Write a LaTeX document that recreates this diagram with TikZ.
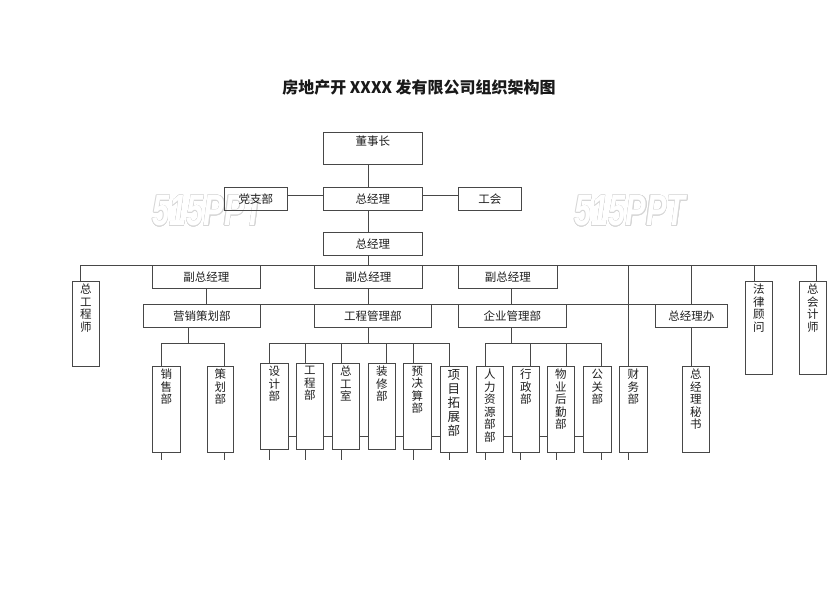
\documentclass[tikz,border=0pt]{standalone}
\usepackage{fontspec}
\usepackage{contour}
\contourlength{0.55pt}
\newfontfamily\cjk{Noto Sans CJK SC}
\newfontfamily\wmfont{Liberation Sans}
\usetikzlibrary{calc}
\tikzset{
  ln/.style={draw=black!72, line width=0.9pt},
  boxbase/.style={draw=black!72, line width=0.9pt, anchor=north west, inner sep=0pt, text=black!88},
  hbox/.style={boxbase, font=\cjk\fontsize{11.5}{13}\selectfont},
  vbox/.style={boxbase},
  vlab/.style={anchor=north, align=center, inner sep=0pt, yshift=-3pt, text=black!88,
     font=\cjk\fontsize{11.5}{12.5}\selectfont},
  toplab/.style={anchor=north, inner sep=0pt, yshift=-4pt, text=black!88,
     font=\cjk\fontsize{11.5}{13}\selectfont},
  wm/.style={text=white, xscale=0.7, font=\wmfont\bfseries\itshape\fontsize{44}{44}\selectfont},
  titlestyle/.style={text=black!90, font=\cjk\bfseries\fontsize{16}{18}\selectfont}
}
\begin{document}
\begin{tikzpicture}[x=1pt, y=-1pt]
\useasboundingbox (0,0) rectangle (840,594);
\fill[white] (0,0) rectangle (840,594);

% watermarks
\node[wm] (wm1) at (208,211) {\contour{black!16}{515PPT}};
\node[wm] (wm2) at (630,211) {\contour{black!16}{515PPT}};

% title
\node[titlestyle] (title) at (419,87) {房地产开 XXXX 发有限公司组织架构图};

% horizontal boxes
\node[hbox, minimum width=99pt, minimum height=32pt, label={[toplab]north:董事长}] (dsz) at (323,132) {};
\node[hbox, minimum width=99pt, minimum height=23pt] (zjl1) at (323,187) {总经理};
\node[hbox, minimum width=63pt, minimum height=23pt] (dzb) at (224,187) {党支部};
\node[hbox, minimum width=63pt, minimum height=23pt] (gh) at (458,187) {工会};
\node[hbox, minimum width=99pt, minimum height=23pt] (zjl2) at (323,232) {总经理};
\node[hbox, minimum width=108pt, minimum height=23pt] (fz1) at (152,265) {副总经理};
\node[hbox, minimum width=108pt, minimum height=23pt] (fz2) at (314,265) {副总经理};
\node[hbox, minimum width=99pt, minimum height=23pt] (fz3) at (458,265) {副总经理};
\node[hbox, minimum width=117pt, minimum height=23pt] (yx) at (143,304) {营销策划部};
\node[hbox, minimum width=117pt, minimum height=23pt] (gc) at (314,304) {工程管理部};
\node[hbox, minimum width=108pt, minimum height=23pt] (qy) at (458,304) {企业管理部};
\node[hbox, minimum width=72pt, minimum height=23pt] (zjb) at (655,304) {总经理办};

% vertical boxes
\node[vbox, minimum width=27pt, minimum height=85pt, label={[vlab]north:总\\工\\程\\师}] (zgcs) at (72,281) {};
\node[vbox, minimum width=27pt, minimum height=93pt, label={[vlab]north:法\\律\\顾\\问}] (flgw) at (745,281) {};
\node[vbox, minimum width=27pt, minimum height=93pt, label={[vlab]north:总\\会\\计\\师}] (zkjs) at (799,281) {};
\node[vbox, minimum width=28pt, minimum height=86pt, label={[vlab]north:销\\售\\部}] (xs) at (152,366) {};
\node[vbox, minimum width=26pt, minimum height=86pt, label={[vlab]north:策\\划\\部}] (ch) at (207,366) {};
\node[vbox, minimum width=28pt, minimum height=86pt, label={[vlab]north:设\\计\\部}] (sj) at (260,363) {};
\node[vbox, minimum width=27pt, minimum height=86pt, label={[vlab]north:工\\程\\部}] (gcb) at (296,363) {};
\node[vbox, minimum width=27pt, minimum height=86pt, label={[vlab]north:总\\工\\室}] (zgs) at (332,363) {};
\node[vbox, minimum width=27pt, minimum height=86pt, label={[vlab]north:装\\修\\部}] (zx) at (368,363) {};
\node[vbox, minimum width=28pt, minimum height=86pt, label={[vlab]north:预\\决\\算\\部}] (yjs) at (403,363) {};
\node[vbox, minimum width=27pt, minimum height=86pt, label={[vlab, font=\cjk\fontsize{12.5}{14.2}\selectfont]north:项\\目\\拓\\展\\部}] (xmtz) at (440,366) {};
\node[vbox, minimum width=27pt, minimum height=86pt, label={[vlab]north:人\\力\\资\\源\\部\\部}] (rl) at (476,366) {};
\node[vbox, minimum width=27pt, minimum height=86pt, label={[vlab]north:行\\政\\部}] (xz) at (512,366) {};
\node[vbox, minimum width=27pt, minimum height=86pt, label={[vlab]north:物\\业\\后\\勤\\部}] (wy) at (547,366) {};
\node[vbox, minimum width=28pt, minimum height=86pt, label={[vlab]north:公\\关\\部}] (gg) at (583,366) {};
\node[vbox, minimum width=28pt, minimum height=86pt, label={[vlab]north:财\\务\\部}] (cw) at (619,366) {};
\node[vbox, minimum width=27pt, minimum height=86pt, label={[vlab]north:总\\经\\理\\秘\\书}] (ms) at (682,366) {};

% column and level coordinates
\coordinate (cT) at (368,0);
\coordinate (c1) at (80.7,0);
\coordinate (c8) at (816.7,0);
\coordinate (cCw) at (628.3,0);
\coordinate (cZjb) at (691.7,0);
\coordinate (cFl) at (754,0);
\coordinate (c206) at (206.7,0);
\coordinate (c511) at (511.7,0);
\coordinate (c188) at (188.3,0);
\coordinate (c161) at (161.7,0);
\coordinate (c224) at (224.3,0);
\coordinate (c269) at (269.3,0);
\coordinate (c305) at (305,0);
\coordinate (c341) at (341,0);
\coordinate (c386) at (386,0);
\coordinate (c413) at (413.3,0);
\coordinate (c449) at (449.3,0);
\coordinate (c485) at (485,0);
\coordinate (c530) at (530,0);
\coordinate (c566) at (566,0);
\coordinate (c601) at (601,0);
\coordinate (c520) at (520.7,0);
\coordinate (c556) at (556.7,0);
\coordinate (yH) at (0,195.5);
\coordinate (yB1) at (0,265);
\coordinate (yB3) at (0,343.3);
\coordinate (yS) at (0,436.7);
\coordinate (yD) at (0,460);

% top connectors
\draw[ln] (dsz.south -| cT) -- (zjl1.north -| cT);
\draw[ln] (zjl1.south -| cT) -- (zjl2.north -| cT);
\draw[ln] (zjl2.south -| cT) -- (fz2.north -| cT);
\draw[ln] (dzb.east |- yH) -- (zjl1.west |- yH);
\draw[ln] (zjl1.east |- yH) -- (gh.west |- yH);

% main bus
\draw[ln] (zgcs.north -| c1) -- (yB1 -| c1) -- (yB1 -| c8) -- (zkjs.north -| c8);
\draw[ln] (yB1 -| cCw) -- (cw.north -| cCw);
\draw[ln] (yB1 -| cZjb) -- (zjb.north -| cZjb);
\draw[ln] (yB1 -| cFl) -- (flgw.north -| cFl);

% second level
\draw[ln] (fz1.south -| c206) -- (yx.north -| c206);
\draw[ln] (fz2.south -| cT) -- (gc.north -| cT);
\draw[ln] (fz3.south -| c511) -- (qy.north -| c511);
\draw[ln] (yx.north east) -- (gc.north west);
\draw[ln] (gc.north east) -- (qy.north west);
\draw[ln] (qy.north east) -- (zjb.north west);
\draw[ln] (zjb.south -| cZjb) -- (ms.north -| cZjb);

% marketing group
\draw[ln] (yx.south -| c188) -- (yB3 -| c188);
\draw[ln] (xs.north -| c161) -- (yB3 -| c161) -- (yB3 -| c224) -- (ch.north -| c224);

% engineering group
\draw[ln] (gc.south -| cT) -- (yB3 -| cT);
\draw[ln] (sj.north -| c269) -- (yB3 -| c269) -- (yB3 -| c449) -- (xmtz.north -| c449);
\draw[ln] (yB3 -| c305) -- (gcb.north -| c305);
\draw[ln] (yB3 -| c341) -- (zgs.north -| c341);
\draw[ln] (yB3 -| c386) -- (zx.north -| c386);
\draw[ln] (yB3 -| c413) -- (yjs.north -| c413);

% enterprise group
\draw[ln] (qy.south -| c511) -- (yB3 -| c511);
\draw[ln] (rl.north -| c485) -- (yB3 -| c485) -- (yB3 -| c601) -- (gg.north -| c601);
\draw[ln] (yB3 -| c530) -- (xz.north -| c530);
\draw[ln] (yB3 -| c566) -- (wy.north -| c566);

% side links
\draw[ln] (sj.east |- yS) -- (gcb.west |- yS);
\draw[ln] (gcb.east |- yS) -- (zgs.west |- yS);
\draw[ln] (zgs.east |- yS) -- (zx.west |- yS);
\draw[ln] (zx.east |- yS) -- (yjs.west |- yS);
\draw[ln] (yjs.east |- yS) -- (xmtz.west |- yS);
\draw[ln] (rl.east |- yS) -- (xz.west |- yS);
\draw[ln] (xz.east |- yS) -- (wy.west |- yS);
\draw[ln] (wy.east |- yS) -- (gg.west |- yS);

% dangling ends
\draw[ln] (xs.south -| c161) -- (yD -| c161);
\draw[ln] (ch.south -| c224) -- (yD -| c224);
\draw[ln] (sj.south -| c269) -- (yD -| c269);
\draw[ln] (gcb.south -| c305) -- (yD -| c305);
\draw[ln] (zgs.south -| c341) -- (yD -| c341);
\draw[ln] (yjs.south -| c413) -- (yD -| c413);
\draw[ln] (xmtz.south -| c449) -- (yD -| c449);
\draw[ln] (rl.south -| c485) -- (yD -| c485);
\draw[ln] (xz.south -| c520) -- (yD -| c520);
\draw[ln] (wy.south -| c556) -- (yD -| c556);
\draw[ln] (gg.south -| c601) -- (yD -| c601);
\draw[ln] (cw.south -| cCw) -- (yD -| cCw);
\end{tikzpicture}
\end{document}
